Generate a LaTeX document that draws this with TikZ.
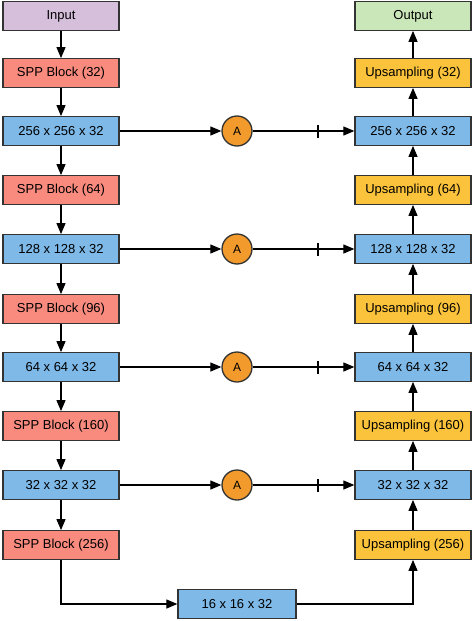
\documentclass[tikz,border=0pt]{standalone}
\usepackage{fontspec}
\setmainfont{Liberation Sans}
\usetikzlibrary{arrows.meta}
\definecolor{inpc}{HTML}{D6BFDB}
\definecolor{sppc}{HTML}{F88A7E}
\definecolor{featc}{HTML}{7EB9E8}
\definecolor{upc}{HTML}{FBC33C}
\definecolor{outc}{HTML}{CAE7BA}
\definecolor{attc}{HTML}{F39A2C}
\begin{document}
\begin{tikzpicture}[x=1pt, y=-1pt,
    box/.style={draw=black!80, line width=1.3pt, minimum width=116pt, minimum height=28.5pt,
      inner sep=0pt, font=\fontsize{13}{15}\selectfont},
    att/.style={circle, draw=black!80, line width=1.3pt, fill=attc, minimum size=30pt,
      inner sep=0pt, font=\fontsize{12}{14}\selectfont},
    link/.style={line width=1.2pt, -{Triangle[length=11pt,width=9pt]}}]
  \useasboundingbox (0,0) rectangle (474,621);

  % encoder
  \node[box, fill=inpc] (in) at (61,16) {Input};
  \node[box, fill=sppc] (s1) at (61,73) {SPP Block (32)};
  \node[box, fill=featc] (e1) at (61,131) {256 x 256 x 32};
  \node[box, fill=sppc] (s2) at (61,190) {SPP Block (64)};
  \node[box, fill=featc] (e2) at (61,249) {128 x 128 x 32};
  \node[box, fill=sppc] (s3) at (61,309) {SPP Block (96)};
  \node[box, fill=featc] (e3) at (61,367) {64 x 64 x 32};
  \node[box, fill=sppc] (s4) at (61,426) {SPP Block (160)};
  \node[box, fill=featc] (e4) at (61,485) {32 x 32 x 32};
  \node[box, fill=sppc] (s5) at (61,545) {SPP Block (256)};

  % bottleneck
  \node[box, minimum width=118pt, fill=featc] (mid) at (237,604) {16 x 16 x 32};

  % decoder
  \node[box, fill=outc] (out) at (413,16) {Output};
  \node[box, fill=upc] (u1) at (413,73) {Upsampling (32)};
  \node[box, fill=featc] (d1) at (413,131) {256 x 256 x 32};
  \node[box, fill=upc] (u2) at (413,190) {Upsampling (64)};
  \node[box, fill=featc] (d2) at (413,249) {128 x 128 x 32};
  \node[box, fill=upc] (u3) at (413,309) {Upsampling (96)};
  \node[box, fill=featc] (d3) at (413,367) {64 x 64 x 32};
  \node[box, fill=upc] (u4) at (413,426) {Upsampling (160)};
  \node[box, fill=featc] (d4) at (413,485) {32 x 32 x 32};
  \node[box, fill=upc] (u5) at (413,545) {Upsampling (256)};

  % attention
  \foreach \i/\y in {1/131, 2/249, 3/367, 4/485} {
    \node[att] (a\i) at (237,\y) {A};
    \coordinate (p\i) at (318,\y);
  }

  \draw[link] (in) -- (s1);
  \draw[link] (s1) -- (e1);
  \draw[link] (e1) -- (s2);
  \draw[link] (s2) -- (e2);
  \draw[link] (e2) -- (s3);
  \draw[link] (s3) -- (e3);
  \draw[link] (e3) -- (s4);
  \draw[link] (s4) -- (e4);
  \draw[link] (e4) -- (s5);
  \draw[link] (s5) |- (mid);
  \draw[link] (mid) -| (u5);
  \draw[link] (u5) -- (d4);
  \draw[link] (d4) -- (u4);
  \draw[link] (u4) -- (d3);
  \draw[link] (d3) -- (u3);
  \draw[link] (u3) -- (d2);
  \draw[link] (d2) -- (u2);
  \draw[link] (u2) -- (d1);
  \draw[link] (d1) -- (u1);
  \draw[link] (u1) -- (out);

  \foreach \i in {1,2,3,4} {
    \draw[link] (e\i) -- (a\i);
    \draw[link] (a\i) -- (d\i);
    \draw[line width=1.5pt] ([yshift=-6.5pt]p\i) -- ([yshift=6.5pt]p\i);
    \draw[line width=1.5pt] ([xshift=-6pt]p\i) -- ([xshift=6pt]p\i);
  }
\end{tikzpicture}
\end{document}
